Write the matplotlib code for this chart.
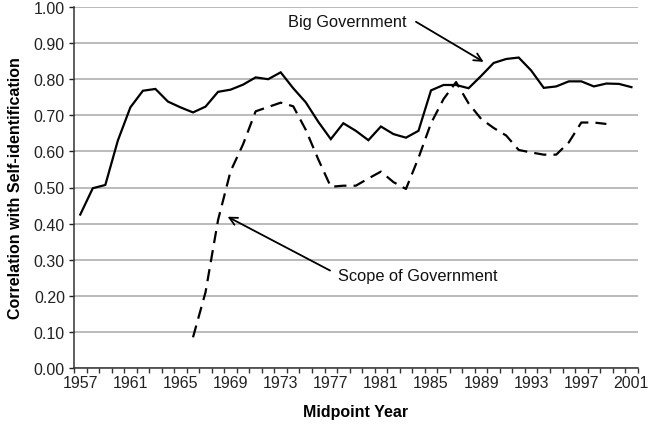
import matplotlib
matplotlib.use("Agg")
import matplotlib.pyplot as plt
from matplotlib.ticker import FixedLocator, FormatStrFormatter

plt.rcParams['font.family'] = ['Liberation Sans', 'DejaVu Sans']

years_big = list(range(1957, 2002))
big_gov = [0.425, 0.498, 0.507, 0.630, 0.722, 0.768, 0.773, 0.738, 0.722, 0.708,
           0.724, 0.765, 0.771, 0.785, 0.805, 0.800, 0.819, 0.775, 0.736, 0.682,
           0.634, 0.678, 0.657, 0.631, 0.669, 0.648, 0.638, 0.657, 0.769, 0.784,
           0.784, 0.775, 0.809, 0.845, 0.856, 0.860, 0.824, 0.776, 0.780, 0.794,
           0.794, 0.780, 0.788, 0.787, 0.778]

years_scope = list(range(1966, 2000))
scope_gov = [0.085, 0.21, 0.41, 0.545, 0.62, 0.711, 0.723, 0.735, 0.725, 0.660,
             0.578, 0.502, 0.505, 0.505, 0.525, 0.544, 0.515, 0.496, 0.582, 0.678,
             0.745, 0.792, 0.733, 0.690, 0.665, 0.644, 0.604, 0.597, 0.591, 0.591,
             0.625, 0.680, 0.680, 0.676]

xtick_labels = list(range(1957, 2002, 4))
ytick_values = [i / 10 for i in range(11)]

fig = plt.figure(figsize=(6.5, 4.27), dpi=100)
ax = fig.add_axes([74/650, 1 - 369/427, (637.7 - 74)/650, (369 - 8)/427])

ax.plot(years_big, big_gov, color='black', lw=1.6, solid_joinstyle='miter')
ax.plot(years_scope, scope_gov, color='black', lw=1.6, linestyle=(0, (5.5, 3.2)))

ax.set_xlim(1956.5, 2001.5)
ax.set_ylim(0, 1.0)

ax.yaxis.set_major_locator(FixedLocator(ytick_values))
ax.yaxis.set_major_formatter(FormatStrFormatter('%.2f'))
ax.grid(axis='y', color='#a8a8a8', lw=1.1)
ax.set_axisbelow(True)

ax.xaxis.set_major_locator(FixedLocator(xtick_labels))
ax.set_xticklabels([str(y) for y in xtick_labels])
ax.xaxis.set_minor_locator(FixedLocator([y + 0.5 for y in range(1956, 2002)]))
ax.tick_params(axis='x', which='major', length=0, pad=5, labelsize=11.5, colors='#222222')
ax.tick_params(axis='x', which='minor', length=3.5, width=1, direction='out', color='#333333')
ax.tick_params(axis='y', which='major', length=3.5, width=1, direction='out', pad=3,
               labelsize=11.5, colors='#222222')

for s in ['top', 'right']:
    ax.spines[s].set_visible(False)
ax.spines['left'].set_color('#333333')
ax.spines['bottom'].set_color('#333333')
ax.spines['left'].set_linewidth(1.1)
ax.spines['bottom'].set_linewidth(1.1)

ax.set_xlabel('Midpoint Year', fontsize=11.5, fontweight='bold', labelpad=10)
ax.set_ylabel('Correlation with Self-identification', fontsize=11.5, fontweight='bold', labelpad=8)

arrow_kw = dict(arrowstyle='->', color='black', lw=1.3, shrinkA=0, shrinkB=0, mutation_scale=14)

ax.text(1973.6, 0.961, 'Big Government', fontsize=11.8, va='center', ha='left', color='#111111')
ax.annotate('', xy=(1989.2, 0.848), xytext=(1983.8, 0.959), arrowprops=arrow_kw)

ax.text(1977.55, 0.255, 'Scope of Government', fontsize=11.8, va='center', ha='left', color='#111111')
ax.annotate('', xy=(1968.76, 0.419), xytext=(1976.94, 0.27), arrowprops=arrow_kw)

fig.savefig('out.png', dpi=100)
